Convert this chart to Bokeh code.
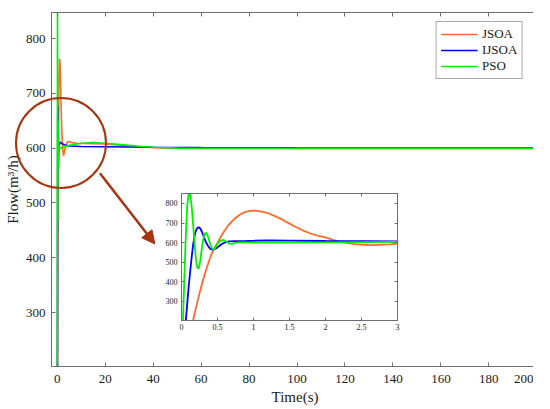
from bokeh.plotting import figure
from bokeh.models import (Range1d, LinearAxis, FixedTicker, Legend, LegendItem,
                          Arrow, NormalHead, Div)
from bokeh.layouts import column
from bokeh.embed import file_html
from bokeh.resources import INLINE

# ---------------- data ----------------
t_jsoa = [0, 0.10, 0.16, 0.20, 0.25, 0.30, 0.35, 0.40, 0.45, 0.50, 0.55, 0.60, 0.65,
          0.70, 0.75, 0.80, 0.85, 0.90, 0.95, 1.00, 1.05, 1.10, 1.20, 1.30, 1.40,
          1.50, 1.60, 1.70, 1.80, 1.90, 2.00, 2.10, 2.20, 2.30, 2.40, 2.50, 2.60,
          2.70, 2.80, 2.90, 3.00, 3.5, 4.0, 4.5, 5.0, 6, 8, 10, 20, 30, 40, 50, 60,
          100, 200]
y_jsoa = [0, 100, 200, 265, 340, 410, 470, 525, 568, 598, 632, 662, 688,
          708, 726, 740, 751, 758, 762, 763, 762, 759, 750, 735, 717,
          697, 677, 660, 645, 634, 626, 614, 604, 598, 592, 589, 587,
          587, 589, 591, 594, 603, 609, 612, 612, 610, 609, 608.5, 607.5, 604, 601, 600, 600,
          600, 600]

t_ijsoa = [0, 0.04, 0.06, 0.08, 0.10, 0.12, 0.14, 0.16, 0.18, 0.20, 0.22, 0.24, 0.26,
           0.28, 0.30, 0.32, 0.34, 0.36, 0.38, 0.40, 0.42, 0.44, 0.46, 0.50, 0.55,
           0.60, 0.66, 0.75, 0.9, 1.0, 1.2, 1.5, 2.0, 2.5, 3.0, 5, 10, 20, 30, 40,
           60, 100, 150, 200]
y_ijsoa = [0, 100, 200, 290, 375, 450, 520, 585, 632, 660, 675, 678, 672,
           658, 640, 620, 602, 588, 576, 568, 565, 564, 566, 575, 590,
           600, 606, 607, 608, 609, 611, 610, 608, 607, 606, 604, 603, 602.5, 602, 601.5,
           601, 600.5, 600.3, 600.2]

t_pso = [0, 0.02, 0.04, 0.06, 0.08, 0.10, 0.12, 0.14, 0.16, 0.18, 0.20, 0.22, 0.24,
         0.26, 0.28, 0.30, 0.32, 0.34, 0.36, 0.38, 0.40, 0.42, 0.44, 0.46, 0.48,
         0.50, 0.54, 0.58, 0.62, 0.66, 0.70, 0.75, 0.80, 0.9, 1.0, 1.5, 2.0, 2.5,
         3.0, 5, 10, 15, 20, 25, 30, 35, 40, 50, 60, 80, 100, 150, 200]
y_pso = [0, 200, 420, 640, 790, 852, 845, 790, 700, 600, 515, 470, 468,
         505, 562, 612, 643, 650, 640, 615, 590, 572, 565, 568, 580,
         595, 610, 613, 605, 595, 593, 598, 601, 601, 600, 600, 601, 602,
         603, 605, 609, 610, 609, 607, 605, 603, 601.5, 600, 599.5, 599.5, 599.5, 599.5, 599.5]

series_names = ["JSOA", "IJSOA", "PSO"]
series_colors = ["#FF6B2B", "#0000FF", "#00F000"]

main_x_ticks = [0, 20, 40, 60, 80, 100, 120, 140, 160, 180, 200]
main_y_ticks = [300, 400, 500, 600, 700, 800]
inset_x_ticks = [0, 0.5, 1, 1.5, 2, 2.5, 3]
inset_x_labels = ["0", "0.5", "1", "1.5", "2", "2.5", "3"]
inset_y_ticks = [300, 400, 500, 600, 700, 800]

# annotation geometry
arrow_start = (17.8, 554)     # main data units
arrow_end = (40.7, 425)
annot_color = "#A8330F"

FONT = "Liberation Serif"
AXIS_COLOR = "#6E6E6E"
TEXT_COLOR = "#1A1A1A"

data = [(t_jsoa, y_jsoa), (t_ijsoa, y_ijsoa), (t_pso, y_pso)]


def style_axis(ax, size, standoff):
    ax.axis_line_color = AXIS_COLOR
    ax.major_tick_line_color = AXIS_COLOR
    ax.major_tick_in = 4
    ax.major_tick_out = 0
    ax.minor_tick_line_color = None
    ax.major_label_text_font = FONT
    ax.major_label_text_font_size = size
    ax.major_label_text_color = TEXT_COLOR
    ax.major_label_standoff = standoff
    ax.axis_label_text_font = FONT
    ax.axis_label_text_font_style = "normal"
    ax.axis_label_text_color = TEXT_COLOR


def blank_axis(ticks):
    ax = LinearAxis(ticker=FixedTicker(ticks=ticks))
    style_axis(ax, "0px", 0)
    ax.major_label_text_color = None
    return ax


# ---------------- main figure ----------------
p = figure(frame_width=487, frame_height=354, output_backend="svg", toolbar_location=None,
           x_range=Range1d(-2.4, 200.7), y_range=Range1d(201.5, 847.5),
           min_border_left=42, min_border_right=5, min_border_top=12, min_border_bottom=43)
p.grid.grid_line_color = None
p.outline_line_color = AXIS_COLOR
p.background_fill_color = "white"
p.border_fill_color = "white"

p.xaxis.ticker = FixedTicker(ticks=main_x_ticks)
p.yaxis.ticker = FixedTicker(ticks=main_y_ticks)
p.xaxis.axis_label = "Time(s)"
p.yaxis.axis_label = "Flow(m³/h)"
for ax in p.xaxis + p.yaxis:
    style_axis(ax, "13px", 5)
    ax.axis_label_text_font_size = "15px"
p.xaxis.major_label_standoff = 8
p.xaxis.axis_label_standoff = 3
p.yaxis.major_label_standoff = 6
p.yaxis.axis_label_standoff = 2
p.add_layout(blank_axis(main_x_ticks), "above")
p.add_layout(blank_axis(main_y_ticks), "right")

p.add_layout(Arrow(end=NormalHead(size=13, fill_color=annot_color, line_color=annot_color),
                   x_start=arrow_start[0], y_start=arrow_start[1],
                   x_end=arrow_end[0], y_end=arrow_end[1],
                   line_color=annot_color, line_width=2.5))

items = []
for (tx, ty), name, col in zip(data, series_names, series_colors):
    r = p.line(tx, ty, line_color=col, line_width=1.6)
    items.append(LegendItem(label=name, renderers=[r]))

legend = Legend(items=items, location="top_right")
legend.label_text_font = FONT
legend.label_text_font_size = "13px"
legend.label_text_color = TEXT_COLOR
legend.glyph_width = 37
legend.glyph_height = 14
legend.label_height = 14
legend.label_standoff = 4
legend.padding = 4
legend.spacing = 0
legend.margin = 9
legend.border_line_color = "#555555"
legend.background_fill_alpha = 1
p.add_layout(legend)
p.styles = {"position": "relative", "left": "-9px"}

# ---------------- inset figure ----------------
ins = figure(frame_width=216, frame_height=127, output_backend="svg", toolbar_location=None,
             x_range=Range1d(0, 3), y_range=Range1d(201, 851),
             min_border_left=60, min_border_right=4, min_border_top=6, min_border_bottom=20)
ins.grid.grid_line_color = None
ins.outline_line_color = AXIS_COLOR
ins.border_fill_color = None
ins.background_fill_color = "white"
ins.xaxis.ticker = FixedTicker(ticks=inset_x_ticks)
ins.xaxis.major_label_overrides = {float(k): v for k, v in zip(inset_x_ticks, inset_x_labels)}
ins.yaxis.ticker = FixedTicker(ticks=inset_y_ticks)
for ax in ins.xaxis + ins.yaxis:
    style_axis(ax, "8px", 4)
    ax.major_tick_in = 3
ins.xaxis.major_label_standoff = 3
ins.add_layout(blank_axis(inset_x_ticks), "above")
ins.add_layout(blank_axis(inset_y_ticks), "right")
for ax in ins.above + ins.right:
    ax.major_tick_in = 3
for (tx, ty), col in zip(data, series_colors):
    ins.line(tx, ty, line_color=col, line_width=1.8)

ins.styles = {"position": "absolute", "left": "121px", "top": "187px", "z-index": "5"}

# zoom circle (drawn outside the frame, so as an overlay element)
circle = Div(text="", width=92, height=92, margin=0,
             styles={"position": "absolute", "left": "15px", "top": "97px",
                     "width": "92px", "height": "92px", "box-sizing": "border-box",
                     "border": "2.5px solid " + annot_color, "border-radius": "50%",
                     "z-index": "6", "pointer-events": "none"})

layout = column(p, ins, circle, styles={"position": "relative"})
open("out.html", "w").write(file_html(layout, INLINE))
